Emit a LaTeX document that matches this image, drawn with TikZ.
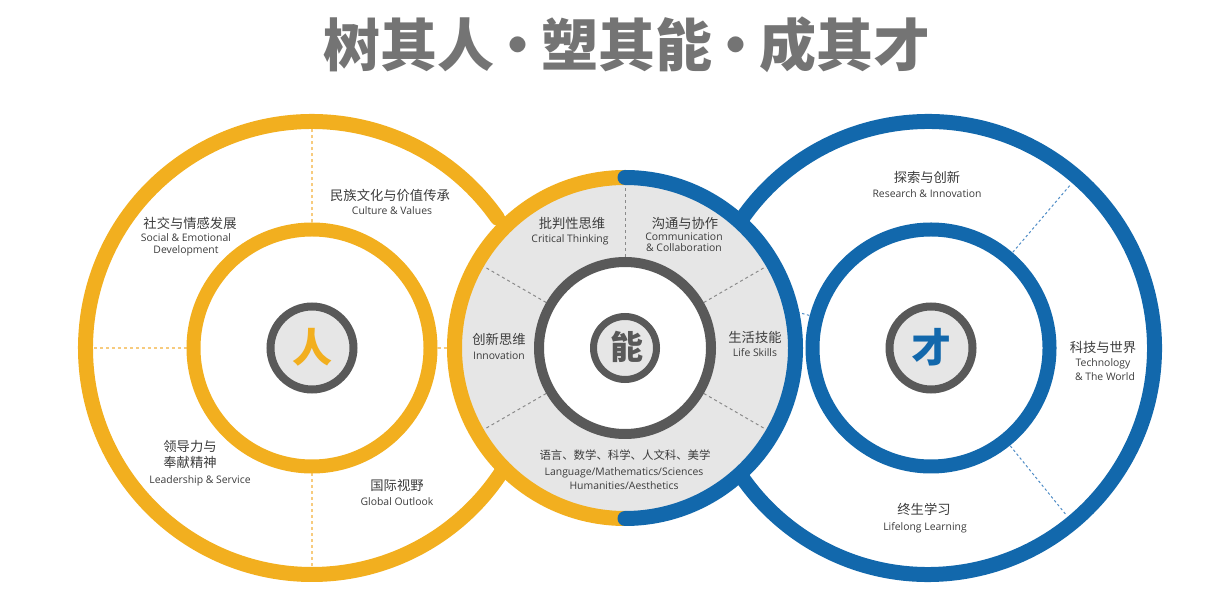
\documentclass[tikz,border=0pt]{standalone}
\usepackage{fontspec}
\newfontfamily\zhfont{Noto Sans CJK SC}
\newfontfamily\enfont{Open Sans}
\definecolor{yel}{HTML}{F2AF1F}
\definecolor{blu}{HTML}{1268AC}
\definecolor{ring}{HTML}{595959}
\definecolor{fillg}{HTML}{E6E6E6}
\definecolor{txt}{HTML}{3C3C3C}
\definecolor{ttl}{HTML}{747474}
\definecolor{ydash}{HTML}{F7CB7E}
\definecolor{gdash}{HTML}{8A8A8A}
\definecolor{bdash}{HTML}{4F8CC6}
\tikzset{
  zh/.style={font=\zhfont\fontsize{13.3}{15}\selectfont, text=txt, inner sep=0pt},
  en/.style={font=\enfont\fontsize{10.4}{11}\selectfont, text=txt, inner sep=0pt},
  ydl/.style={ydash, line width=1.2pt, dash pattern=on 3pt off 3pt},
  gdl/.style={gdash, line width=1pt, dash pattern=on 3pt off 3pt},
  bdl/.style={bdash, line width=1pt, dash pattern=on 2.5pt off 2.5pt},
  bigchar/.style={font=\zhfont\bfseries\fontsize{40}{40}\selectfont, inner sep=0pt},
}
\begin{document}
\begin{tikzpicture}[x=1pt,y=1pt]
\useasboundingbox (0,0) rectangle (1215,610);
\coordinate (L) at (312,262);
\coordinate (M) at (625,262);
\coordinate (R) at (928,262);
\coordinate (Ri) at (931,262);
% title
\node[font=\zhfont\bfseries\fontsize{57}{60}\selectfont, text=ttl, inner sep=0pt] (title) at (627,565) {树其人\kern-5pt•\kern-5pt塑其能\kern-5pt•\kern-5pt成其才};
% left outer arc
\draw[yel, line width=15pt, line cap=round] (L) ++(35:226.5) arc[start angle=35, end angle=330, radius=226.5];
% right outer arc
\draw[blu, line width=15pt, line cap=round] (R) ++(148:226.5) arc[start angle=148, end angle=-148, radius=226.5];
% left dashes
\draw[ydl] (L) ++(90:125.5) -- ++(90:93.5);
\draw[ydl] (L) ++(270:125.5) -- ++(270:93.5);
\draw[ydl] (L) ++(180:125.5) -- ++(180:93.5);
\draw[ydl] (L) ++(0:125.5) -- ++(0:60);
% right dashes
\draw[bdl] (Ri) ++(49.5:126) -- ++(49.5:88);
\draw[bdl] (Ri) ++(-51:126) -- ++(-51:88);
\draw[bdl] (Ri) ++(165:126) -- ++(165:60);
% left inner
\draw[yel, line width=14pt] (L) circle[radius=118.5];
\draw[ring, line width=8pt, fill=fillg] (L) circle[radius=41.5];
\node[bigchar, text=yel] (ren) at (312,263) {人};
% right inner
\draw[blu, line width=14pt] (Ri) circle[radius=118.5];
\draw[ring, line width=8pt, fill=fillg] (Ri) circle[radius=41.5];
\node[bigchar, text=blu] (cai) at (931,263) {才};
% middle circle
\fill[fillg] (M) circle[radius=170];
\draw[yel, line width=15pt] (M) ++(90:170.5) arc[start angle=90, end angle=270, radius=170.5];
\draw[blu, line width=15pt, line cap=round] (M) ++(90:170.5) arc[start angle=90, end angle=-90, radius=170.5];
\foreach \a in {90,30,150,210,330} {\draw[gdl] (M) ++(\a:91) -- ++(\a:72);}
\draw[ring, line width=10pt, fill=white] (M) circle[radius=86];
\draw[ring, line width=7pt, fill=fillg] (M) circle[radius=31.5];
\node[bigchar, text=ring, font=\zhfont\bfseries\fontsize{33}{33}\selectfont] (neng) at (627,263) {能};
% left labels
\node[zh] (l1a) at (390,415) {民族文化与价值传承};
\node[en] (l1b) at (392,399) {Culture \& Values};
\node[zh] (l2a) at (190,387) {社交与情感发展};
\node[en] (l2b) at (186,372) {Social \& Emotional};
\node[en] (l2c) at (186,359) {Development};
\node[zh] (l3a) at (190,164) {领导力与};
\node[zh] (l3b) at (190,148) {奉献精神};
\node[en] (l3c) at (200,129) {Leadership \& Service};
\node[zh] (l4a) at (397,125) {国际视野};
\node[en] (l4b) at (397,108) {Global Outlook};
% middle labels
\node[zh] (m1a) at (572,387) {批判性思维};
\node[en] (m1b) at (570,370) {Critical Thinking};
\node[zh] (m2a) at (685,387) {沟通与协作};
\node[en] (m2b) at (684,373) {Communication};
\node[en] (m2c) at (684,362) {\& Collaboration};
\node[zh] (m3a) at (499,271) {创新思维};
\node[en] (m3b) at (499,254) {Innovation};
\node[zh] (m4a) at (755,273) {生活技能};
\node[en] (m4b) at (755,257) {Life Skills};
\node[zh, font=\zhfont\fontsize{11.4}{14}\selectfont] (m5a) at (625,155) {语言、数学、科学、人文科、美学};
\node[en] (m5b) at (624,137) {Language/Mathematics/Sciences};
\node[en] (m5c) at (624,124) {Humanities/Aesthetics};
% right labels
\node[zh] (r1a) at (927,433) {探索与创新};
\node[en] (r1b) at (927,416) {Research \& Innovation};
\node[zh] (r2a) at (1103,263) {科技与世界};
\node[en] (r2b) at (1103,246) {Technology};
\node[en] (r2c) at (1105,233) {\& The World};
\node[zh] (r3a) at (924,101) {终生学习};
\node[en] (r3b) at (925,82) {Lifelong Learning};
\end{tikzpicture}
\end{document}
